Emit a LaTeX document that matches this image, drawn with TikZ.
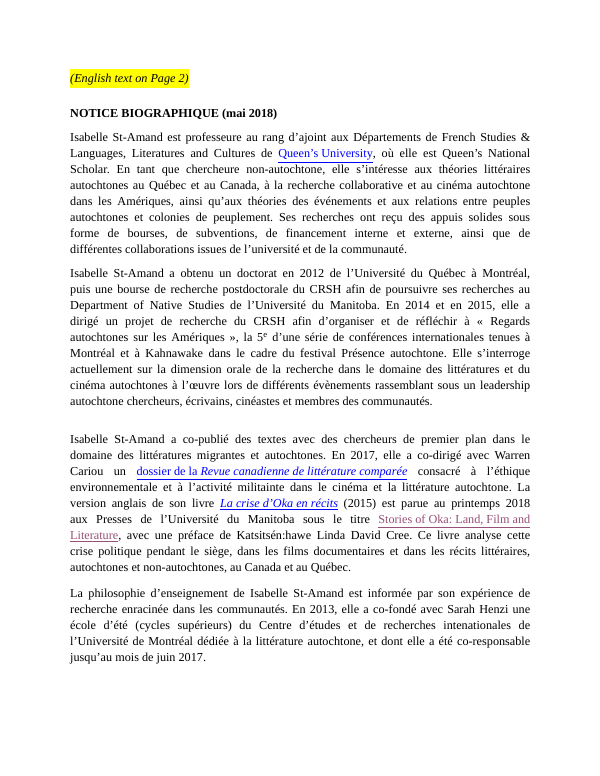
\documentclass[tikz,border=0pt]{standalone}
\usepackage{fontspec}
\setmainfont{Liberation Serif}
\definecolor{linkblue}{RGB}{0,0,255}
\definecolor{linkvis}{RGB}{150,80,120}
\definecolor{hl}{RGB}{255,255,0}
\newcommand{\lk}[1]{{\color{linkblue}\underline{#1}}}
\newcommand{\lv}[1]{{\color{linkvis}\underline{#1}}}
\begin{document}
\frenchspacing
\begin{tikzpicture}[x=1bp,y=-1bp,
  para/.style={anchor=north west,inner sep=0pt,text width=460bp,align=justify,font=\fontsize{12.2bp}{16bp}\selectfont\frenchspacing}]
\useasboundingbox (0,0) rectangle (600,776);
\fill[white] (0,0) rectangle (600,776);
\node[anchor=base west,inner sep=0pt,fill=hl,font=\fontsize{12.2bp}{16bp}\selectfont\itshape,inner ysep=1.5bp] (hl) at (70,82) {\strut(English text on Page 2)};
\node[anchor=base west,inner sep=0pt,font=\fontsize{12.2bp}{16bp}\selectfont\bfseries] (head) at (70,117) {NOTICE BIOGRAPHIQUE (mai 2018)};
\node[para] (p1) at (70,133) {Isabelle St-Amand est professeure au rang d’ajoint aux Départements de French Studies \&\linebreak
Languages, Literatures and Cultures de \lk{Queen’s University}, où elle est Queen’s National\linebreak
Scholar. En tant que chercheure non-autochtone, elle s’intéresse aux théories littéraires\linebreak
autochtones au Québec et au Canada, à la recherche collaborative et au cinéma autochtone\linebreak
dans les Amériques, ainsi qu’aux théories des événements et aux relations entre peuples\linebreak
autochtones et colonies de peuplement. Ses recherches ont reçu des appuis solides sous\linebreak
forme de bourses, de subventions, de financement interne et externe, ainsi que de\linebreak
différentes collaborations issues de l’université et de la communauté.};
\node[para] (p2) at (70,269) {Isabelle St-Amand a obtenu un doctorat en 2012 de l’Université du Québec à Montréal,\linebreak
puis une bourse de recherche postdoctorale du CRSH afin de poursuivre ses recherches au\linebreak
Department of Native Studies de l’Université du Manitoba. En 2014 et en 2015, elle a\linebreak
dirigé un projet de recherche du CRSH afin d’organiser et de réfléchir à « Regards\linebreak
autochtones sur les Amériques », la 5\textsuperscript{e} d’une série de conférences internationales tenues à\linebreak
Montréal et à Kahnawake dans le cadre du festival Présence autochtone. Elle s’interroge\linebreak
actuellement sur la dimension orale de la recherche dans le domaine des littératures et du\linebreak
cinéma autochtones à l’œuvre lors de différents évènements rassemblant sous un leadership\linebreak
autochtone chercheurs, écrivains, cinéastes et membres des communautés.};
\node[para] (p3) at (70,435) {Isabelle St-Amand a co-publié des textes avec des chercheurs de premier plan dans le\linebreak
domaine des littératures migrantes et autochtones. En 2017, elle a co-dirigé avec Warren\linebreak
Cariou un \lk{dossier de la \textit{Revue canadienne de littérature comparée}} consacré à l’éthique\linebreak
environnementale et à l’activité militainte dans le cinéma et la littérature autochtone. La\linebreak
version anglais de son livre \lk{\textit{La crise d’Oka en récits}} (2015) est parue au printemps 2018\linebreak
aux Presses de l’Université du Manitoba sous le titre \lv{Stories of Oka: Land, Film and}\linebreak
\lv{Literature}, avec une préface de Katsitsén:hawe Linda David Cree. Ce livre analyse cette\linebreak
crise politique pendant le siège, dans les films documentaires et dans les récits littéraires,\linebreak
autochtones et non-autochtones, au Canada et au Québec.};
\node[para] (p4) at (70,589) {La philosophie d’enseignement de Isabelle St-Amand est informée par son expérience de\linebreak
recherche enracinée dans les communautés. En 2013, elle a co-fondé avec Sarah Henzi une\linebreak
école d’été (cycles supérieurs) du Centre d’études et de recherches intenationales de\linebreak
l’Université de Montréal dédiée à la littérature autochtone, et dont elle a été co-responsable\linebreak
jusqu’au mois de juin 2017.};
\end{tikzpicture}
\end{document}
